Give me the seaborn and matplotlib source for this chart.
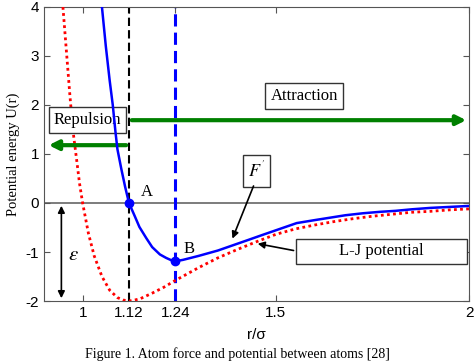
import seaborn as sns
import matplotlib.pyplot as plt
from matplotlib.patches import Rectangle
import pandas as pd

# F' curve (blue)
r_f = [1.05, 1.06, 1.07, 1.078, 1.085, 1.09, 1.10, 1.11, 1.12, 1.135, 1.147, 1.165,
       1.18, 1.20, 1.216, 1.23, 1.24, 1.26, 1.30, 1.35, 1.39, 1.43, 1.466, 1.51,
       1.554, 1.60, 1.64, 1.68, 1.725, 1.77, 1.81, 1.85, 1.9, 1.95, 2.0]
u_f = [4.0, 3.2, 2.5, 2.0, 1.45, 1.1, 0.7, 0.33, 0.0, -0.27, -0.49, -0.72,
       -0.9, -1.05, -1.12, -1.17, -1.19, -1.16, -1.08, -0.97, -0.86, -0.75, -0.65, -0.53,
       -0.41, -0.35, -0.30, -0.25, -0.21, -0.18, -0.16, -0.13, -0.1, -0.08, -0.06]

# L-J potential (red dotted)
r_lj = [0.949, 0.955, 0.96, 0.967, 0.972, 0.977, 0.985, 0.992, 1.0, 1.015, 1.03, 1.05,
        1.07, 1.09, 1.105, 1.12, 1.135, 1.15, 1.18, 1.21, 1.24, 1.27, 1.30, 1.35, 1.40,
        1.45, 1.50, 1.55, 1.60, 1.65, 1.70, 1.75, 1.80, 1.85, 1.90, 1.95, 2.0]
u_lj = [4.0, 3.4, 2.9, 2.2, 1.75, 1.35, 0.85, 0.4, 0.0, -0.62, -1.08, -1.5,
        -1.78, -1.93, -1.98, -2.0, -1.98, -1.95, -1.84, -1.72, -1.58, -1.45, -1.32, -1.12, -0.95,
        -0.79, -0.64, -0.53, -0.45, -0.38, -0.32, -0.27, -0.23, -0.19, -0.17, -0.14, -0.12]

xticks = [1, 1.12, 1.24, 1.5, 2]
xtick_labels = ['1', '1.12', '1.24', '1.5', '2']
yticks = [-2, -1, 0, 1, 2, 3, 4]

df_f = pd.DataFrame({'r': r_f, 'U': u_f})
df_lj = pd.DataFrame({'r': r_lj, 'U': u_lj})

plt.rcParams['mathtext.fontset'] = 'stix'
plt.rcParams['axes.unicode_minus'] = False

fig = plt.figure(figsize=(4.74, 3.62), dpi=100)
ax = fig.add_axes([0.0928, 0.1685, 0.8967, 0.8122])

serif = 'Liberation Serif'
sans = 'Liberation Sans'

ax.axhline(0, color='#666666', lw=1.2, zorder=1)
ax.axvline(1.12, color='black', ls=(0, (4, 2)), lw=1.5, zorder=2)
ax.axvline(1.24, color='blue', ls=(0, (4, 2)), lw=2.2, zorder=2)

sns.lineplot(data=df_lj, x='r', y='U', sort=False, color='red', lw=2,
             linestyle=(0, (1, 1.2)), ax=ax, zorder=3)
sns.lineplot(data=df_f, x='r', y='U', sort=False, color='blue', lw=1.8, ax=ax, zorder=4)

ax.plot([1.12, 1.24], [0, -1.19], 'o', color='blue', ms=6, zorder=5)
ax.text(1.15, 0.15, 'A', family=serif, fontsize=12)
ax.text(1.262, -1.02, 'B', family=serif, fontsize=12)

# green arrows
ax.annotate('', xy=(0.905, 1.18), xytext=(1.12, 1.18),
            arrowprops=dict(arrowstyle='-|>', color='green', lw=3, mutation_scale=14))
ax.annotate('', xy=(2.0, 1.69), xytext=(1.12, 1.69),
            arrowprops=dict(arrowstyle='-|>', color='green', lw=3, mutation_scale=14))

box = dict(boxstyle='square,pad=0.3', fc='white', ec='#333333', lw=1)
ax.text(1.012, 1.69, 'Repulsion', family=serif, fontsize=12, ha='center', va='center', bbox=box)
ax.text(1.573, 2.19, 'Attraction', family=serif, fontsize=12, ha='center', va='center', bbox=box)
ax.text(1.45, 0.66, r"$F^{'}$", fontsize=13, ha='center', va='center',
        bbox=dict(boxstyle='square,pad=0.3', fc='white', ec='#333333', lw=1))

# L-J potential label box (wider than its text)
ax.add_patch(Rectangle((1.553, -1.245), 0.443, 0.51, fc='white', ec='#333333', lw=1, zorder=6))
ax.text(1.773, -0.98, 'L-J potential', family=serif, fontsize=12, ha='center', va='center', zorder=7)

ax.annotate('', xy=(1.385, -0.78), xytext=(1.445, 0.4),
            arrowprops=dict(arrowstyle='-|>', color='black', lw=1.2))
ax.annotate('', xy=(1.446, -0.82), xytext=(1.553, -0.98),
            arrowprops=dict(arrowstyle='-|>', color='black', lw=1.2))

# epsilon
ax.annotate('', xy=(0.945, 0.0), xytext=(0.945, -2.0),
            arrowprops=dict(arrowstyle='<|-|>', color='black', lw=1.2))
ax.text(0.975, -1.04, r'$\varepsilon$', fontsize=15, ha='center', va='center')

ax.set_xlim(0.9, 2.0)
ax.set_ylim(-2, 4)
ax.set_xticks(xticks)
ax.set_xticklabels(xtick_labels)
ax.set_yticks(yticks)
ax.tick_params(direction='in', top=True, right=True, labelsize=11, length=4, color='#555555')
for lab in ax.get_xticklabels() + ax.get_yticklabels():
    lab.set_family(sans)
for s in ax.spines.values():
    s.set_color('#555555')
ax.set_xlabel('r/σ', family=sans, fontsize=11, labelpad=6)
ax.set_ylabel('Potential energy U(r)', family=serif, fontsize=10.5, labelpad=4)

fig.text(0.5, 0.003, 'Figure 1. Atom force and potential between atoms [28]',
         family=serif, fontsize=10, ha='center', va='bottom')

fig.savefig('out.png', dpi=100)
